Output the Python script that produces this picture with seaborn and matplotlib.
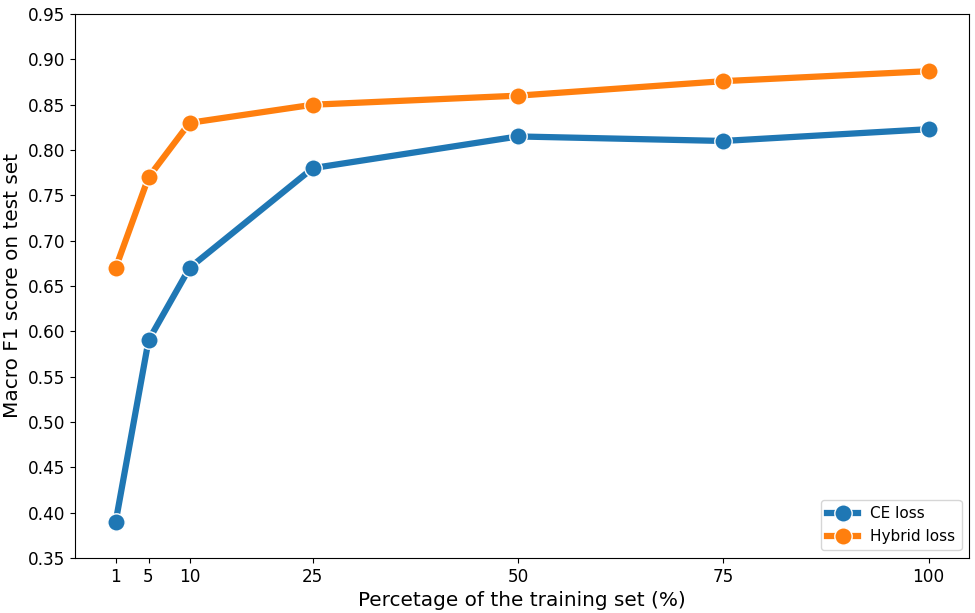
import pandas as pd
import seaborn as sns
import matplotlib.pyplot as plt

# Data
percentages = [1, 5, 10, 25, 50, 75, 100]
ce_loss = [0.39, 0.59, 0.67, 0.78, 0.815, 0.81, 0.823]
hybrid_loss = [0.67, 0.77, 0.83, 0.85, 0.86, 0.876, 0.887]

df = pd.DataFrame({
    "pct": percentages * 2,
    "f1": ce_loss + hybrid_loss,
    "loss": ["CE loss"] * len(ce_loss) + ["Hybrid loss"] * len(hybrid_loss),
})

fig, ax = plt.subplots(figsize=(9.75, 6.13), dpi=100)
sns.lineplot(data=df, x="pct", y="f1", hue="loss", marker="o", markersize=12.5,
             linewidth=4.5, markeredgecolor="white", markeredgewidth=1, ax=ax)

ax.set_xticks(percentages)
ax.set_ylim(0.35, 0.95)
ax.set_yticks([0.35 + 0.05 * i for i in range(13)])
ax.tick_params(labelsize=12.2)
ax.set_xlabel("Percetage of the training set (%)", fontsize=14.4)
ax.set_ylabel("Macro F1 score on test set", fontsize=14.4)
ax.legend(title=None, loc="lower right", fontsize=11)

fig.subplots_adjust(left=0.077, right=0.994, top=0.977, bottom=0.09)
fig.savefig("out.png", dpi=100)
